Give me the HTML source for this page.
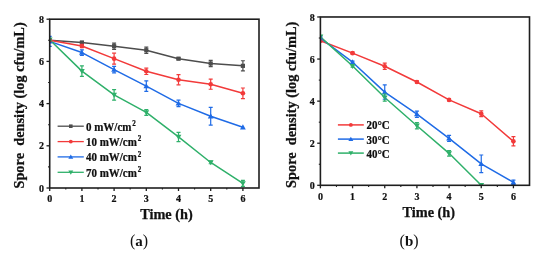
<!DOCTYPE html>
<html><head><meta charset="utf-8"><style>
html,body{margin:0;padding:0;background:#fff;}
body{width:550px;height:257px;overflow:hidden;}
svg{display:block;will-change:transform;}
text{font-family:"Liberation Serif",serif;font-weight:bold;fill:#111;stroke:#111;stroke-width:0.25px;}
</style></head><body>
<svg width="550" height="257" viewBox="0 0 550 257">
<rect width="550" height="257" fill="#fff"/>
<line x1="46.5" y1="188" x2="49.7" y2="188" stroke="#1e1e1e" stroke-width="1.3"/>
<text transform="translate(44.1,191.6) scale(0.88,1)" font-size="11.4" text-anchor="end" >0</text>
<line x1="48.1" y1="166.9" x2="49.7" y2="166.9" stroke="#1e1e1e" stroke-width="1.1"/>
<line x1="46.5" y1="145.8" x2="49.7" y2="145.8" stroke="#1e1e1e" stroke-width="1.3"/>
<text transform="translate(44.1,149.4) scale(0.88,1)" font-size="11.4" text-anchor="end" >2</text>
<line x1="48.1" y1="124.7" x2="49.7" y2="124.7" stroke="#1e1e1e" stroke-width="1.1"/>
<line x1="46.5" y1="103.6" x2="49.7" y2="103.6" stroke="#1e1e1e" stroke-width="1.3"/>
<text transform="translate(44.1,107.2) scale(0.88,1)" font-size="11.4" text-anchor="end" >4</text>
<line x1="48.1" y1="82.5" x2="49.7" y2="82.5" stroke="#1e1e1e" stroke-width="1.1"/>
<line x1="46.5" y1="61.4" x2="49.7" y2="61.4" stroke="#1e1e1e" stroke-width="1.3"/>
<text transform="translate(44.1,65) scale(0.88,1)" font-size="11.4" text-anchor="end" >6</text>
<line x1="48.1" y1="40.3" x2="49.7" y2="40.3" stroke="#1e1e1e" stroke-width="1.1"/>
<line x1="46.5" y1="19.2" x2="49.7" y2="19.2" stroke="#1e1e1e" stroke-width="1.3"/>
<text transform="translate(44.1,22.8) scale(0.88,1)" font-size="11.4" text-anchor="end" >8</text>
<line x1="49.7" y1="188" x2="49.7" y2="191" stroke="#1e1e1e" stroke-width="1.3"/>
<text transform="translate(49.7,202.3) scale(0.88,1)" font-size="11.4" text-anchor="middle" >0</text>
<line x1="65.8" y1="188" x2="65.8" y2="189.6" stroke="#1e1e1e" stroke-width="1.1"/>
<line x1="81.9" y1="188" x2="81.9" y2="191" stroke="#1e1e1e" stroke-width="1.3"/>
<text transform="translate(81.9,202.3) scale(0.88,1)" font-size="11.4" text-anchor="middle" >1</text>
<line x1="98" y1="188" x2="98" y2="189.6" stroke="#1e1e1e" stroke-width="1.1"/>
<line x1="114.1" y1="188" x2="114.1" y2="191" stroke="#1e1e1e" stroke-width="1.3"/>
<text transform="translate(114.1,202.3) scale(0.88,1)" font-size="11.4" text-anchor="middle" >2</text>
<line x1="130.2" y1="188" x2="130.2" y2="189.6" stroke="#1e1e1e" stroke-width="1.1"/>
<line x1="146.3" y1="188" x2="146.3" y2="191" stroke="#1e1e1e" stroke-width="1.3"/>
<text transform="translate(146.3,202.3) scale(0.88,1)" font-size="11.4" text-anchor="middle" >3</text>
<line x1="162.4" y1="188" x2="162.4" y2="189.6" stroke="#1e1e1e" stroke-width="1.1"/>
<line x1="178.5" y1="188" x2="178.5" y2="191" stroke="#1e1e1e" stroke-width="1.3"/>
<text transform="translate(178.5,202.3) scale(0.88,1)" font-size="11.4" text-anchor="middle" >4</text>
<line x1="194.6" y1="188" x2="194.6" y2="189.6" stroke="#1e1e1e" stroke-width="1.1"/>
<line x1="210.7" y1="188" x2="210.7" y2="191" stroke="#1e1e1e" stroke-width="1.3"/>
<text transform="translate(210.7,202.3) scale(0.88,1)" font-size="11.4" text-anchor="middle" >5</text>
<line x1="226.8" y1="188" x2="226.8" y2="189.6" stroke="#1e1e1e" stroke-width="1.1"/>
<line x1="242.9" y1="188" x2="242.9" y2="191" stroke="#1e1e1e" stroke-width="1.3"/>
<text transform="translate(242.9,202.3) scale(0.88,1)" font-size="11.4" text-anchor="middle" >6</text>
<clipPath id="c49"><rect x="49.7" y="19.2" width="209.3" height="168.8"/></clipPath>
<g clip-path="url(#c49)">
<path d="M49.7,40.3 L81.9,42.62 L114.1,46.21 L146.3,50.22 L178.5,58.66 L210.7,63.51 L242.9,65.83" fill="none" stroke="#4d4d4d" stroke-width="1.5" stroke-linejoin="round"/>
<path d="M49.7,40.3 L81.9,46 L114.1,58.66 L146.3,71.32 L178.5,79.76 L210.7,84.19 L242.9,93.26" fill="none" stroke="#f23a3a" stroke-width="1.5" stroke-linejoin="round"/>
<path d="M49.7,41.35 L81.9,52.54 L114.1,69.63 L146.3,86.09 L178.5,103.39 L210.7,116.26 L242.9,127.23" fill="none" stroke="#1f6be6" stroke-width="1.5" stroke-linejoin="round"/>
<path d="M49.7,39.67 L81.9,71.11 L114.1,94.95 L146.3,112.46 L178.5,136.94 L210.7,162.47 L242.9,183.36" fill="none" stroke="#2fb06a" stroke-width="1.5" stroke-linejoin="round"/>
<rect x="47.6" y="38.2" width="4.2" height="4.2" fill="#4d4d4d"/>
<rect x="79.8" y="40.52" width="4.2" height="4.2" fill="#4d4d4d"/>
<rect x="112" y="44.11" width="4.2" height="4.2" fill="#4d4d4d"/>
<rect x="144.2" y="48.12" width="4.2" height="4.2" fill="#4d4d4d"/>
<rect x="176.4" y="56.56" width="4.2" height="4.2" fill="#4d4d4d"/>
<rect x="208.6" y="61.41" width="4.2" height="4.2" fill="#4d4d4d"/>
<rect x="240.8" y="63.73" width="4.2" height="4.2" fill="#4d4d4d"/>
<circle cx="49.7" cy="40.3" r="2.3" fill="#f23a3a"/>
<circle cx="81.9" cy="46" r="2.3" fill="#f23a3a"/>
<circle cx="114.1" cy="58.66" r="2.3" fill="#f23a3a"/>
<circle cx="146.3" cy="71.32" r="2.3" fill="#f23a3a"/>
<circle cx="178.5" cy="79.76" r="2.3" fill="#f23a3a"/>
<circle cx="210.7" cy="84.19" r="2.3" fill="#f23a3a"/>
<circle cx="242.9" cy="93.26" r="2.3" fill="#f23a3a"/>
<path d="M49.7,38.45 L52.6,43.53 L46.8,43.53Z" fill="#1f6be6"/>
<path d="M81.9,49.64 L84.8,54.71 L79,54.71Z" fill="#1f6be6"/>
<path d="M114.1,66.73 L117,71.8 L111.2,71.8Z" fill="#1f6be6"/>
<path d="M146.3,83.19 L149.2,88.26 L143.4,88.26Z" fill="#1f6be6"/>
<path d="M178.5,100.49 L181.4,105.56 L175.6,105.56Z" fill="#1f6be6"/>
<path d="M210.7,113.36 L213.6,118.43 L207.8,118.43Z" fill="#1f6be6"/>
<path d="M242.9,124.33 L245.8,129.41 L240,129.41Z" fill="#1f6be6"/>
<path d="M49.7,42.57 L52.6,37.49 L46.8,37.49Z" fill="#2fb06a"/>
<path d="M81.9,74.01 L84.8,68.93 L79,68.93Z" fill="#2fb06a"/>
<path d="M114.1,97.85 L117,92.77 L111.2,92.77Z" fill="#2fb06a"/>
<path d="M146.3,115.36 L149.2,110.29 L143.4,110.29Z" fill="#2fb06a"/>
<path d="M178.5,139.84 L181.4,134.76 L175.6,134.76Z" fill="#2fb06a"/>
<path d="M210.7,165.37 L213.6,160.29 L207.8,160.29Z" fill="#2fb06a"/>
<path d="M242.9,186.26 L245.8,181.18 L240,181.18Z" fill="#2fb06a"/>
<line x1="49.7" y1="39.24" x2="49.7" y2="41.35" stroke="#4d4d4d" stroke-width="1.2"/>
<line x1="47.7" y1="39.24" x2="51.7" y2="39.24" stroke="#4d4d4d" stroke-width="1.2"/>
<line x1="47.7" y1="41.35" x2="51.7" y2="41.35" stroke="#4d4d4d" stroke-width="1.2"/>
<line x1="81.9" y1="41.36" x2="81.9" y2="43.89" stroke="#4d4d4d" stroke-width="1.2"/>
<line x1="79.9" y1="41.36" x2="83.9" y2="41.36" stroke="#4d4d4d" stroke-width="1.2"/>
<line x1="79.9" y1="43.89" x2="83.9" y2="43.89" stroke="#4d4d4d" stroke-width="1.2"/>
<line x1="114.1" y1="43.04" x2="114.1" y2="49.37" stroke="#4d4d4d" stroke-width="1.2"/>
<line x1="112.1" y1="43.04" x2="116.1" y2="43.04" stroke="#4d4d4d" stroke-width="1.2"/>
<line x1="112.1" y1="49.37" x2="116.1" y2="49.37" stroke="#4d4d4d" stroke-width="1.2"/>
<line x1="146.3" y1="47.05" x2="146.3" y2="53.38" stroke="#4d4d4d" stroke-width="1.2"/>
<line x1="144.3" y1="47.05" x2="148.3" y2="47.05" stroke="#4d4d4d" stroke-width="1.2"/>
<line x1="144.3" y1="53.38" x2="148.3" y2="53.38" stroke="#4d4d4d" stroke-width="1.2"/>
<line x1="178.5" y1="57.6" x2="178.5" y2="59.71" stroke="#4d4d4d" stroke-width="1.2"/>
<line x1="176.5" y1="57.6" x2="180.5" y2="57.6" stroke="#4d4d4d" stroke-width="1.2"/>
<line x1="176.5" y1="59.71" x2="180.5" y2="59.71" stroke="#4d4d4d" stroke-width="1.2"/>
<line x1="210.7" y1="60.34" x2="210.7" y2="66.67" stroke="#4d4d4d" stroke-width="1.2"/>
<line x1="208.7" y1="60.34" x2="212.7" y2="60.34" stroke="#4d4d4d" stroke-width="1.2"/>
<line x1="208.7" y1="66.67" x2="212.7" y2="66.67" stroke="#4d4d4d" stroke-width="1.2"/>
<line x1="242.9" y1="60.77" x2="242.9" y2="70.89" stroke="#4d4d4d" stroke-width="1.2"/>
<line x1="240.9" y1="60.77" x2="244.9" y2="60.77" stroke="#4d4d4d" stroke-width="1.2"/>
<line x1="240.9" y1="70.89" x2="244.9" y2="70.89" stroke="#4d4d4d" stroke-width="1.2"/>
<line x1="49.7" y1="39.24" x2="49.7" y2="41.35" stroke="#f23a3a" stroke-width="1.2"/>
<line x1="47.7" y1="39.24" x2="51.7" y2="39.24" stroke="#f23a3a" stroke-width="1.2"/>
<line x1="47.7" y1="41.35" x2="51.7" y2="41.35" stroke="#f23a3a" stroke-width="1.2"/>
<line x1="81.9" y1="44.31" x2="81.9" y2="47.68" stroke="#f23a3a" stroke-width="1.2"/>
<line x1="79.9" y1="44.31" x2="83.9" y2="44.31" stroke="#f23a3a" stroke-width="1.2"/>
<line x1="79.9" y1="47.68" x2="83.9" y2="47.68" stroke="#f23a3a" stroke-width="1.2"/>
<line x1="114.1" y1="53.17" x2="114.1" y2="64.14" stroke="#f23a3a" stroke-width="1.2"/>
<line x1="112.1" y1="53.17" x2="116.1" y2="53.17" stroke="#f23a3a" stroke-width="1.2"/>
<line x1="112.1" y1="64.14" x2="116.1" y2="64.14" stroke="#f23a3a" stroke-width="1.2"/>
<line x1="146.3" y1="68.15" x2="146.3" y2="74.48" stroke="#f23a3a" stroke-width="1.2"/>
<line x1="144.3" y1="68.15" x2="148.3" y2="68.15" stroke="#f23a3a" stroke-width="1.2"/>
<line x1="144.3" y1="74.48" x2="148.3" y2="74.48" stroke="#f23a3a" stroke-width="1.2"/>
<line x1="178.5" y1="74.69" x2="178.5" y2="84.82" stroke="#f23a3a" stroke-width="1.2"/>
<line x1="176.5" y1="74.69" x2="180.5" y2="74.69" stroke="#f23a3a" stroke-width="1.2"/>
<line x1="176.5" y1="84.82" x2="180.5" y2="84.82" stroke="#f23a3a" stroke-width="1.2"/>
<line x1="210.7" y1="79.12" x2="210.7" y2="89.25" stroke="#f23a3a" stroke-width="1.2"/>
<line x1="208.7" y1="79.12" x2="212.7" y2="79.12" stroke="#f23a3a" stroke-width="1.2"/>
<line x1="208.7" y1="89.25" x2="212.7" y2="89.25" stroke="#f23a3a" stroke-width="1.2"/>
<line x1="242.9" y1="87.99" x2="242.9" y2="98.54" stroke="#f23a3a" stroke-width="1.2"/>
<line x1="240.9" y1="87.99" x2="244.9" y2="87.99" stroke="#f23a3a" stroke-width="1.2"/>
<line x1="240.9" y1="98.54" x2="244.9" y2="98.54" stroke="#f23a3a" stroke-width="1.2"/>
<line x1="49.7" y1="36.29" x2="49.7" y2="46.42" stroke="#1f6be6" stroke-width="1.2"/>
<line x1="47.7" y1="36.29" x2="51.7" y2="36.29" stroke="#1f6be6" stroke-width="1.2"/>
<line x1="47.7" y1="46.42" x2="51.7" y2="46.42" stroke="#1f6be6" stroke-width="1.2"/>
<line x1="81.9" y1="49.79" x2="81.9" y2="55.28" stroke="#1f6be6" stroke-width="1.2"/>
<line x1="79.9" y1="49.79" x2="83.9" y2="49.79" stroke="#1f6be6" stroke-width="1.2"/>
<line x1="79.9" y1="55.28" x2="83.9" y2="55.28" stroke="#1f6be6" stroke-width="1.2"/>
<line x1="114.1" y1="66.46" x2="114.1" y2="72.79" stroke="#1f6be6" stroke-width="1.2"/>
<line x1="112.1" y1="66.46" x2="116.1" y2="66.46" stroke="#1f6be6" stroke-width="1.2"/>
<line x1="112.1" y1="72.79" x2="116.1" y2="72.79" stroke="#1f6be6" stroke-width="1.2"/>
<line x1="146.3" y1="80.81" x2="146.3" y2="91.36" stroke="#1f6be6" stroke-width="1.2"/>
<line x1="144.3" y1="80.81" x2="148.3" y2="80.81" stroke="#1f6be6" stroke-width="1.2"/>
<line x1="144.3" y1="91.36" x2="148.3" y2="91.36" stroke="#1f6be6" stroke-width="1.2"/>
<line x1="178.5" y1="100.22" x2="178.5" y2="106.55" stroke="#1f6be6" stroke-width="1.2"/>
<line x1="176.5" y1="100.22" x2="180.5" y2="100.22" stroke="#1f6be6" stroke-width="1.2"/>
<line x1="176.5" y1="106.55" x2="180.5" y2="106.55" stroke="#1f6be6" stroke-width="1.2"/>
<line x1="210.7" y1="107.4" x2="210.7" y2="125.12" stroke="#1f6be6" stroke-width="1.2"/>
<line x1="208.7" y1="107.4" x2="212.7" y2="107.4" stroke="#1f6be6" stroke-width="1.2"/>
<line x1="208.7" y1="125.12" x2="212.7" y2="125.12" stroke="#1f6be6" stroke-width="1.2"/>
<line x1="49.7" y1="38.61" x2="49.7" y2="40.72" stroke="#2fb06a" stroke-width="1.2"/>
<line x1="47.7" y1="38.61" x2="51.7" y2="38.61" stroke="#2fb06a" stroke-width="1.2"/>
<line x1="47.7" y1="40.72" x2="51.7" y2="40.72" stroke="#2fb06a" stroke-width="1.2"/>
<line x1="81.9" y1="65.83" x2="81.9" y2="76.38" stroke="#2fb06a" stroke-width="1.2"/>
<line x1="79.9" y1="65.83" x2="83.9" y2="65.83" stroke="#2fb06a" stroke-width="1.2"/>
<line x1="79.9" y1="76.38" x2="83.9" y2="76.38" stroke="#2fb06a" stroke-width="1.2"/>
<line x1="114.1" y1="89.67" x2="114.1" y2="100.22" stroke="#2fb06a" stroke-width="1.2"/>
<line x1="112.1" y1="89.67" x2="116.1" y2="89.67" stroke="#2fb06a" stroke-width="1.2"/>
<line x1="112.1" y1="100.22" x2="116.1" y2="100.22" stroke="#2fb06a" stroke-width="1.2"/>
<line x1="146.3" y1="109.51" x2="146.3" y2="115.42" stroke="#2fb06a" stroke-width="1.2"/>
<line x1="144.3" y1="109.51" x2="148.3" y2="109.51" stroke="#2fb06a" stroke-width="1.2"/>
<line x1="144.3" y1="115.42" x2="148.3" y2="115.42" stroke="#2fb06a" stroke-width="1.2"/>
<line x1="178.5" y1="132.3" x2="178.5" y2="141.58" stroke="#2fb06a" stroke-width="1.2"/>
<line x1="176.5" y1="132.3" x2="180.5" y2="132.3" stroke="#2fb06a" stroke-width="1.2"/>
<line x1="176.5" y1="141.58" x2="180.5" y2="141.58" stroke="#2fb06a" stroke-width="1.2"/>
<line x1="210.7" y1="161.2" x2="210.7" y2="163.73" stroke="#2fb06a" stroke-width="1.2"/>
<line x1="208.7" y1="161.2" x2="212.7" y2="161.2" stroke="#2fb06a" stroke-width="1.2"/>
<line x1="208.7" y1="163.73" x2="212.7" y2="163.73" stroke="#2fb06a" stroke-width="1.2"/>
<line x1="242.9" y1="180.4" x2="242.9" y2="186.31" stroke="#2fb06a" stroke-width="1.2"/>
<line x1="240.9" y1="180.4" x2="244.9" y2="180.4" stroke="#2fb06a" stroke-width="1.2"/>
<line x1="240.9" y1="186.31" x2="244.9" y2="186.31" stroke="#2fb06a" stroke-width="1.2"/>
</g>
<rect x="49.7" y="19.2" width="209.3" height="168.8" fill="none" stroke="#1e1e1e" stroke-width="1.6"/>
<line x1="317.2" y1="185.3" x2="320.4" y2="185.3" stroke="#1e1e1e" stroke-width="1.3"/>
<text transform="translate(314.8,188.9) scale(0.88,1)" font-size="11.4" text-anchor="end" >0</text>
<line x1="318.8" y1="164.26" x2="320.4" y2="164.26" stroke="#1e1e1e" stroke-width="1.1"/>
<line x1="317.2" y1="143.22" x2="320.4" y2="143.22" stroke="#1e1e1e" stroke-width="1.3"/>
<text transform="translate(314.8,146.82) scale(0.88,1)" font-size="11.4" text-anchor="end" >2</text>
<line x1="318.8" y1="122.18" x2="320.4" y2="122.18" stroke="#1e1e1e" stroke-width="1.1"/>
<line x1="317.2" y1="101.14" x2="320.4" y2="101.14" stroke="#1e1e1e" stroke-width="1.3"/>
<text transform="translate(314.8,104.74) scale(0.88,1)" font-size="11.4" text-anchor="end" >4</text>
<line x1="318.8" y1="80.1" x2="320.4" y2="80.1" stroke="#1e1e1e" stroke-width="1.1"/>
<line x1="317.2" y1="59.06" x2="320.4" y2="59.06" stroke="#1e1e1e" stroke-width="1.3"/>
<text transform="translate(314.8,62.66) scale(0.88,1)" font-size="11.4" text-anchor="end" >6</text>
<line x1="318.8" y1="38.02" x2="320.4" y2="38.02" stroke="#1e1e1e" stroke-width="1.1"/>
<line x1="317.2" y1="16.98" x2="320.4" y2="16.98" stroke="#1e1e1e" stroke-width="1.3"/>
<text transform="translate(314.8,20.58) scale(0.88,1)" font-size="11.4" text-anchor="end" >8</text>
<line x1="320.4" y1="185.3" x2="320.4" y2="188.3" stroke="#1e1e1e" stroke-width="1.3"/>
<text transform="translate(320.4,199.6) scale(0.88,1)" font-size="11.4" text-anchor="middle" >0</text>
<line x1="336.48" y1="185.3" x2="336.48" y2="186.9" stroke="#1e1e1e" stroke-width="1.1"/>
<line x1="352.57" y1="185.3" x2="352.57" y2="188.3" stroke="#1e1e1e" stroke-width="1.3"/>
<text transform="translate(352.57,199.6) scale(0.88,1)" font-size="11.4" text-anchor="middle" >1</text>
<line x1="368.65" y1="185.3" x2="368.65" y2="186.9" stroke="#1e1e1e" stroke-width="1.1"/>
<line x1="384.74" y1="185.3" x2="384.74" y2="188.3" stroke="#1e1e1e" stroke-width="1.3"/>
<text transform="translate(384.74,199.6) scale(0.88,1)" font-size="11.4" text-anchor="middle" >2</text>
<line x1="400.82" y1="185.3" x2="400.82" y2="186.9" stroke="#1e1e1e" stroke-width="1.1"/>
<line x1="416.91" y1="185.3" x2="416.91" y2="188.3" stroke="#1e1e1e" stroke-width="1.3"/>
<text transform="translate(416.91,199.6) scale(0.88,1)" font-size="11.4" text-anchor="middle" >3</text>
<line x1="433" y1="185.3" x2="433" y2="186.9" stroke="#1e1e1e" stroke-width="1.1"/>
<line x1="449.08" y1="185.3" x2="449.08" y2="188.3" stroke="#1e1e1e" stroke-width="1.3"/>
<text transform="translate(449.08,199.6) scale(0.88,1)" font-size="11.4" text-anchor="middle" >4</text>
<line x1="465.16" y1="185.3" x2="465.16" y2="186.9" stroke="#1e1e1e" stroke-width="1.1"/>
<line x1="481.25" y1="185.3" x2="481.25" y2="188.3" stroke="#1e1e1e" stroke-width="1.3"/>
<text transform="translate(481.25,199.6) scale(0.88,1)" font-size="11.4" text-anchor="middle" >5</text>
<line x1="497.33" y1="185.3" x2="497.33" y2="186.9" stroke="#1e1e1e" stroke-width="1.1"/>
<line x1="513.42" y1="185.3" x2="513.42" y2="188.3" stroke="#1e1e1e" stroke-width="1.3"/>
<text transform="translate(513.42,199.6) scale(0.88,1)" font-size="11.4" text-anchor="middle" >6</text>
<clipPath id="c320"><rect x="320.4" y="16.98" width="209.11" height="168.32"/></clipPath>
<g clip-path="url(#c320)">
<path d="M320.4,40.76 L352.57,53.17 L384.74,66.21 L416.91,81.99 L449.08,99.88 L481.25,113.76 L513.42,141.33" fill="none" stroke="#f23a3a" stroke-width="1.5" stroke-linejoin="round"/>
<path d="M320.4,38.02 L352.57,62.22 L384.74,92.09 L416.91,114.18 L449.08,138.38 L481.25,163.84 L513.42,182.35" fill="none" stroke="#1f6be6" stroke-width="1.5" stroke-linejoin="round"/>
<path d="M320.4,36.76 L352.57,66 L384.74,97.56 L416.91,125.76 L449.08,153.32 L481.25,185.3" fill="none" stroke="#2fb06a" stroke-width="1.5" stroke-linejoin="round"/>
<circle cx="320.4" cy="40.76" r="2.3" fill="#f23a3a"/>
<circle cx="352.57" cy="53.17" r="2.3" fill="#f23a3a"/>
<circle cx="384.74" cy="66.21" r="2.3" fill="#f23a3a"/>
<circle cx="416.91" cy="81.99" r="2.3" fill="#f23a3a"/>
<circle cx="449.08" cy="99.88" r="2.3" fill="#f23a3a"/>
<circle cx="481.25" cy="113.76" r="2.3" fill="#f23a3a"/>
<circle cx="513.42" cy="141.33" r="2.3" fill="#f23a3a"/>
<path d="M320.4,35.12 L323.3,40.2 L317.5,40.2Z" fill="#1f6be6"/>
<path d="M352.57,59.32 L355.47,64.39 L349.67,64.39Z" fill="#1f6be6"/>
<path d="M384.74,89.19 L387.64,94.27 L381.84,94.27Z" fill="#1f6be6"/>
<path d="M416.91,111.28 L419.81,116.36 L414.01,116.36Z" fill="#1f6be6"/>
<path d="M449.08,135.48 L451.98,140.56 L446.18,140.56Z" fill="#1f6be6"/>
<path d="M481.25,160.94 L484.15,166.01 L478.35,166.01Z" fill="#1f6be6"/>
<path d="M513.42,179.45 L516.32,184.53 L510.52,184.53Z" fill="#1f6be6"/>
<path d="M320.4,39.66 L323.3,34.58 L317.5,34.58Z" fill="#2fb06a"/>
<path d="M352.57,68.9 L355.47,63.83 L349.67,63.83Z" fill="#2fb06a"/>
<path d="M384.74,100.46 L387.64,95.39 L381.84,95.39Z" fill="#2fb06a"/>
<path d="M416.91,128.66 L419.81,123.58 L414.01,123.58Z" fill="#2fb06a"/>
<path d="M449.08,156.22 L451.98,151.14 L446.18,151.14Z" fill="#2fb06a"/>
<path d="M481.25,188.2 L484.15,183.12 L478.35,183.12Z" fill="#2fb06a"/>
<line x1="320.4" y1="39.7" x2="320.4" y2="41.81" stroke="#f23a3a" stroke-width="1.2"/>
<line x1="318.4" y1="39.7" x2="322.4" y2="39.7" stroke="#f23a3a" stroke-width="1.2"/>
<line x1="318.4" y1="41.81" x2="322.4" y2="41.81" stroke="#f23a3a" stroke-width="1.2"/>
<line x1="352.57" y1="52.12" x2="352.57" y2="54.22" stroke="#f23a3a" stroke-width="1.2"/>
<line x1="350.57" y1="52.12" x2="354.57" y2="52.12" stroke="#f23a3a" stroke-width="1.2"/>
<line x1="350.57" y1="54.22" x2="354.57" y2="54.22" stroke="#f23a3a" stroke-width="1.2"/>
<line x1="384.74" y1="63.06" x2="384.74" y2="69.37" stroke="#f23a3a" stroke-width="1.2"/>
<line x1="382.74" y1="63.06" x2="386.74" y2="63.06" stroke="#f23a3a" stroke-width="1.2"/>
<line x1="382.74" y1="69.37" x2="386.74" y2="69.37" stroke="#f23a3a" stroke-width="1.2"/>
<line x1="416.91" y1="80.94" x2="416.91" y2="83.05" stroke="#f23a3a" stroke-width="1.2"/>
<line x1="414.91" y1="80.94" x2="418.91" y2="80.94" stroke="#f23a3a" stroke-width="1.2"/>
<line x1="414.91" y1="83.05" x2="418.91" y2="83.05" stroke="#f23a3a" stroke-width="1.2"/>
<line x1="449.08" y1="98.83" x2="449.08" y2="100.93" stroke="#f23a3a" stroke-width="1.2"/>
<line x1="447.08" y1="98.83" x2="451.08" y2="98.83" stroke="#f23a3a" stroke-width="1.2"/>
<line x1="447.08" y1="100.93" x2="451.08" y2="100.93" stroke="#f23a3a" stroke-width="1.2"/>
<line x1="481.25" y1="110.82" x2="481.25" y2="116.71" stroke="#f23a3a" stroke-width="1.2"/>
<line x1="479.25" y1="110.82" x2="483.25" y2="110.82" stroke="#f23a3a" stroke-width="1.2"/>
<line x1="479.25" y1="116.71" x2="483.25" y2="116.71" stroke="#f23a3a" stroke-width="1.2"/>
<line x1="513.42" y1="136.7" x2="513.42" y2="145.96" stroke="#f23a3a" stroke-width="1.2"/>
<line x1="511.42" y1="136.7" x2="515.42" y2="136.7" stroke="#f23a3a" stroke-width="1.2"/>
<line x1="511.42" y1="145.96" x2="515.42" y2="145.96" stroke="#f23a3a" stroke-width="1.2"/>
<line x1="320.4" y1="36.97" x2="320.4" y2="39.07" stroke="#1f6be6" stroke-width="1.2"/>
<line x1="318.4" y1="36.97" x2="322.4" y2="36.97" stroke="#1f6be6" stroke-width="1.2"/>
<line x1="318.4" y1="39.07" x2="322.4" y2="39.07" stroke="#1f6be6" stroke-width="1.2"/>
<line x1="352.57" y1="61.16" x2="352.57" y2="63.27" stroke="#1f6be6" stroke-width="1.2"/>
<line x1="350.57" y1="61.16" x2="354.57" y2="61.16" stroke="#1f6be6" stroke-width="1.2"/>
<line x1="350.57" y1="63.27" x2="354.57" y2="63.27" stroke="#1f6be6" stroke-width="1.2"/>
<line x1="384.74" y1="84.94" x2="384.74" y2="99.25" stroke="#1f6be6" stroke-width="1.2"/>
<line x1="382.74" y1="84.94" x2="386.74" y2="84.94" stroke="#1f6be6" stroke-width="1.2"/>
<line x1="382.74" y1="99.25" x2="386.74" y2="99.25" stroke="#1f6be6" stroke-width="1.2"/>
<line x1="416.91" y1="111.03" x2="416.91" y2="117.34" stroke="#1f6be6" stroke-width="1.2"/>
<line x1="414.91" y1="111.03" x2="418.91" y2="111.03" stroke="#1f6be6" stroke-width="1.2"/>
<line x1="414.91" y1="117.34" x2="418.91" y2="117.34" stroke="#1f6be6" stroke-width="1.2"/>
<line x1="449.08" y1="135.44" x2="449.08" y2="141.33" stroke="#1f6be6" stroke-width="1.2"/>
<line x1="447.08" y1="135.44" x2="451.08" y2="135.44" stroke="#1f6be6" stroke-width="1.2"/>
<line x1="447.08" y1="141.33" x2="451.08" y2="141.33" stroke="#1f6be6" stroke-width="1.2"/>
<line x1="481.25" y1="155" x2="481.25" y2="172.68" stroke="#1f6be6" stroke-width="1.2"/>
<line x1="479.25" y1="155" x2="483.25" y2="155" stroke="#1f6be6" stroke-width="1.2"/>
<line x1="479.25" y1="172.68" x2="483.25" y2="172.68" stroke="#1f6be6" stroke-width="1.2"/>
<line x1="513.42" y1="180.04" x2="513.42" y2="184.67" stroke="#1f6be6" stroke-width="1.2"/>
<line x1="511.42" y1="180.04" x2="515.42" y2="180.04" stroke="#1f6be6" stroke-width="1.2"/>
<line x1="511.42" y1="184.67" x2="515.42" y2="184.67" stroke="#1f6be6" stroke-width="1.2"/>
<line x1="320.4" y1="35.71" x2="320.4" y2="37.81" stroke="#2fb06a" stroke-width="1.2"/>
<line x1="318.4" y1="35.71" x2="322.4" y2="35.71" stroke="#2fb06a" stroke-width="1.2"/>
<line x1="318.4" y1="37.81" x2="322.4" y2="37.81" stroke="#2fb06a" stroke-width="1.2"/>
<line x1="352.57" y1="64.95" x2="352.57" y2="67.06" stroke="#2fb06a" stroke-width="1.2"/>
<line x1="350.57" y1="64.95" x2="354.57" y2="64.95" stroke="#2fb06a" stroke-width="1.2"/>
<line x1="350.57" y1="67.06" x2="354.57" y2="67.06" stroke="#2fb06a" stroke-width="1.2"/>
<line x1="384.74" y1="93.99" x2="384.74" y2="101.14" stroke="#2fb06a" stroke-width="1.2"/>
<line x1="382.74" y1="93.99" x2="386.74" y2="93.99" stroke="#2fb06a" stroke-width="1.2"/>
<line x1="382.74" y1="101.14" x2="386.74" y2="101.14" stroke="#2fb06a" stroke-width="1.2"/>
<line x1="416.91" y1="122.6" x2="416.91" y2="128.91" stroke="#2fb06a" stroke-width="1.2"/>
<line x1="414.91" y1="122.6" x2="418.91" y2="122.6" stroke="#2fb06a" stroke-width="1.2"/>
<line x1="414.91" y1="128.91" x2="418.91" y2="128.91" stroke="#2fb06a" stroke-width="1.2"/>
<line x1="449.08" y1="150.58" x2="449.08" y2="156.05" stroke="#2fb06a" stroke-width="1.2"/>
<line x1="447.08" y1="150.58" x2="451.08" y2="150.58" stroke="#2fb06a" stroke-width="1.2"/>
<line x1="447.08" y1="156.05" x2="451.08" y2="156.05" stroke="#2fb06a" stroke-width="1.2"/>
</g>
<rect x="320.4" y="16.98" width="209.11" height="168.32" fill="none" stroke="#1e1e1e" stroke-width="1.6"/>
<text transform="translate(24.4,188.6) rotate(-90)" font-size="14.35" text-anchor="start">Spore&#160;&#160;density (log cfu/mL)</text>
<text transform="translate(296.0,188.0) rotate(-90)" font-size="14.35" text-anchor="start">Spore&#160;&#160;density (log cfu/mL)</text>
<text x="140.2" y="218.6" font-size="14.3" text-anchor="start" >Time (h)</text>
<text x="402.5" y="216.9" font-size="14.3" text-anchor="start" >Time (h)</text>
<line x1="57.6" y1="126.2" x2="83.8" y2="126.2" stroke="#4d4d4d" stroke-width="1.3"/>
<rect x="69.02" y="124.42" width="3.57" height="3.57" fill="#4d4d4d"/>
<text transform="translate(86,130.7) scale(0.9,1)" font-size="12.2" text-anchor="start" >0 mW/cm<tspan font-size="7.8" dy="-4.9" dx="1.1">2</tspan></text>
<line x1="57.6" y1="141.6" x2="83.8" y2="141.6" stroke="#f23a3a" stroke-width="1.3"/>
<circle cx="70.8" cy="141.6" r="1.95" fill="#f23a3a"/>
<text transform="translate(86,146.1) scale(0.9,1)" font-size="12.2" text-anchor="start" >10 mW/cm<tspan font-size="7.8" dy="-4.9" dx="1.1">2</tspan></text>
<line x1="57.6" y1="156.9" x2="83.8" y2="156.9" stroke="#1f6be6" stroke-width="1.3"/>
<path d="M70.8,154.44 L73.27,158.75 L68.33,158.75Z" fill="#1f6be6"/>
<text transform="translate(86,161.4) scale(0.9,1)" font-size="12.2" text-anchor="start" >40 mW/cm<tspan font-size="7.8" dy="-4.9" dx="1.1">2</tspan></text>
<line x1="57.6" y1="172.3" x2="83.8" y2="172.3" stroke="#2fb06a" stroke-width="1.3"/>
<path d="M70.8,174.77 L73.27,170.45 L68.33,170.45Z" fill="#2fb06a"/>
<text transform="translate(86,176.8) scale(0.9,1)" font-size="12.2" text-anchor="start" >70 mW/cm<tspan font-size="7.8" dy="-4.9" dx="1.1">2</tspan></text>
<line x1="337.9" y1="124.9" x2="363.8" y2="124.9" stroke="#f23a3a" stroke-width="1.5"/>
<circle cx="350.85" cy="124.9" r="1.95" fill="#f23a3a"/>
<text transform="translate(366.5,129.4) scale(0.9,1)" font-size="12.2" text-anchor="start" >20&#176;C</text>
<line x1="337.9" y1="139.1" x2="363.8" y2="139.1" stroke="#1f6be6" stroke-width="1.5"/>
<path d="M350.85,136.63 L353.31,140.95 L348.39,140.95Z" fill="#1f6be6"/>
<text transform="translate(366.5,143.6) scale(0.9,1)" font-size="12.2" text-anchor="start" >30&#176;C</text>
<line x1="337.9" y1="153.1" x2="363.8" y2="153.1" stroke="#2fb06a" stroke-width="1.5"/>
<path d="M350.85,155.56 L353.31,151.25 L348.39,151.25Z" fill="#2fb06a"/>
<text transform="translate(366.5,157.6) scale(0.9,1)" font-size="12.2" text-anchor="start" >40&#176;C</text>
<text x="130" y="246.4" font-size="16" style="font-weight:normal;stroke:none">(<tspan style="font-weight:bold" font-size="15">a</tspan>)</text>
<text x="399.6" y="246.4" font-size="16" style="font-weight:normal;stroke:none">(<tspan style="font-weight:bold" font-size="15">b</tspan>)</text>
</svg>
</body></html>
